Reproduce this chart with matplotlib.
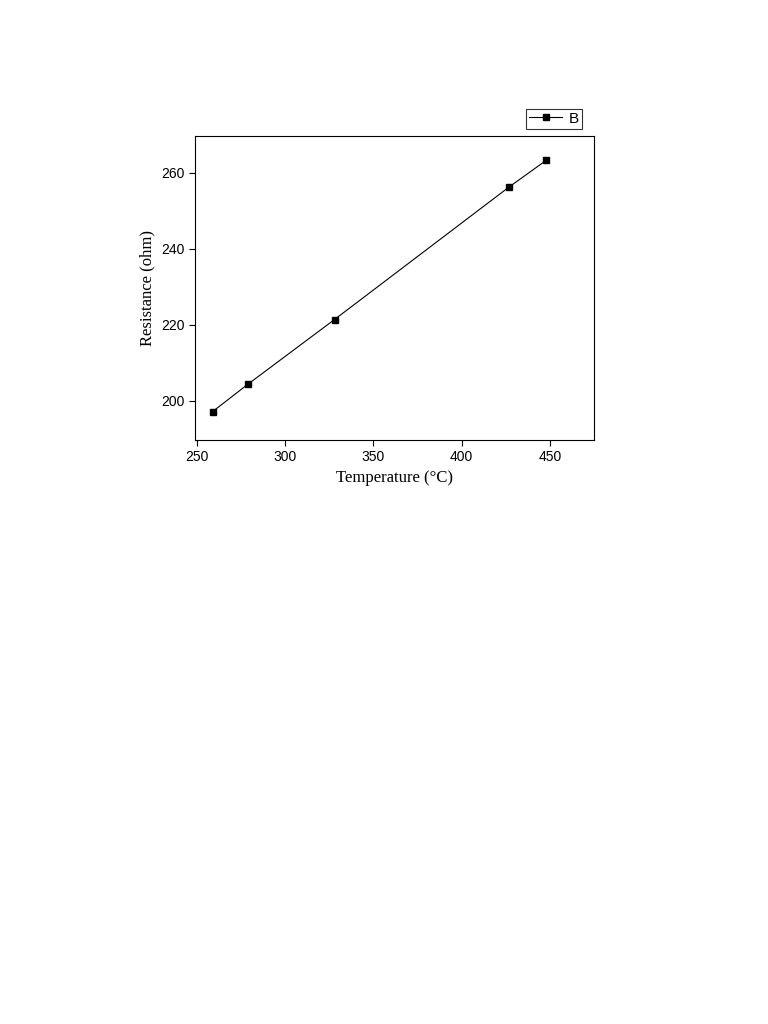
import matplotlib
matplotlib.use("Agg")
import matplotlib.pyplot as plt

temperature = [259, 279, 328, 427, 448]
resistance = [197.2, 204.4, 221.4, 256.3, 263.3]
xticks = [250, 300, 350, 400, 450]
yticks = [200, 220, 240, 260]

fig = plt.figure(figsize=(7.68, 10.24), dpi=100)
ax = fig.add_axes([0.254, 0.5703, 0.5195, 0.297])
ax.plot(temperature, resistance, color="black", lw=0.8, marker="s", ms=5, label="B")
ax.set_xlim(249, 475)
ax.set_ylim(189.7, 269.7)
ax.set_xticks(xticks)
ax.set_yticks(yticks)
ax.tick_params(direction="out", labelsize=10, length=4, width=0.8)
for lab in ax.get_xticklabels() + ax.get_yticklabels():
    lab.set_fontfamily("Liberation Sans")
ax.tick_params(top=False, right=False)
ax.set_xlabel("Temperature (°C)", fontfamily="Liberation Serif", fontsize=12)
ax.set_ylabel("Resistance (ohm)", fontfamily="Liberation Serif", fontsize=12)
for s in ax.spines.values():
    s.set_linewidth(0.8)
leg = fig.legend(loc="upper left", bbox_to_anchor=(518/768, 1-101/1024), frameon=True,
                 fancybox=False, edgecolor="black", prop={"family": "Liberation Sans", "size": 11},
                 handlelength=2.2, borderpad=0.2, handletextpad=0.4)
leg.get_frame().set_linewidth(0.8)
fig.savefig("out.png", dpi=100)
